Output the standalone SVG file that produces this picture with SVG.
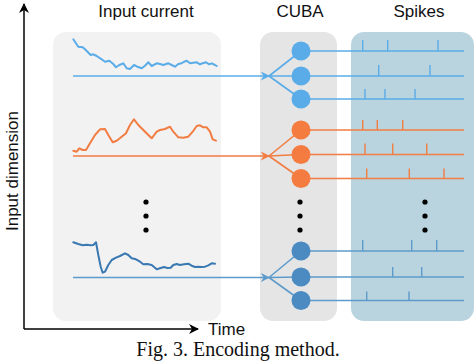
<svg xmlns="http://www.w3.org/2000/svg" width="474" height="362" viewBox="0 0 474 362">
<defs>
<style>
.lbl{font-family:"Liberation Sans",Arial,sans-serif;font-size:17px;fill:#111}
.cap{font-family:"Liberation Serif","Times New Roman",serif;font-size:20px;fill:#111}
.w{fill:none;stroke-width:2;stroke-linejoin:round;stroke-linecap:round}
.s{fill:none;stroke-width:1.6}
.t{fill:none;stroke-width:1.4}
.lb{stroke:#5aace8}
.or{stroke:#f27d43}
.db{stroke:#3a78b2}
.dbl{stroke:#5e9bcb}
.dot{fill:#000}
</style>
<marker id="ax" viewBox="0 0 10 10" refX="9" refY="5" markerWidth="10" markerHeight="10" markerUnits="userSpaceOnUse" orient="auto">
<path d="M0,0 L10,5 L0,10 L3,5 Z" fill="#000"/>
</marker>
<marker id="ab" viewBox="0 0 10 10" refX="9" refY="5" markerWidth="9" markerHeight="9" markerUnits="userSpaceOnUse" orient="auto">
<path d="M0,0 L10,5 L0,10 L3,5 Z" fill="#5aace8"/>
</marker>
<marker id="ao" viewBox="0 0 10 10" refX="9" refY="5" markerWidth="9" markerHeight="9" markerUnits="userSpaceOnUse" orient="auto">
<path d="M0,0 L10,5 L0,10 L3,5 Z" fill="#f27d43"/>
</marker>
<marker id="ad" viewBox="0 0 10 10" refX="9" refY="5" markerWidth="9" markerHeight="9" markerUnits="userSpaceOnUse" orient="auto">
<path d="M0,0 L10,5 L0,10 L3,5 Z" fill="#5e9bcb"/>
</marker>
</defs>
<rect width="474" height="362" fill="#fff"/>

<g id="panel-input">
<rect x="53" y="32" width="168" height="289" rx="13" fill="#f2f2f2"/>
<text class="lbl" x="146" y="17" text-anchor="middle">Input current</text>
</g>
<g id="panel-cuba">
<rect x="260" y="32" width="77" height="289" rx="13" fill="#e5e5e5"/>
<text class="lbl" x="300" y="17" text-anchor="middle">CUBA</text>
</g>
<g id="panel-spikes">
<rect x="351" y="32" width="123" height="289" rx="13" fill="#b9d4df"/>
<text class="lbl" x="419" y="17" text-anchor="middle">Spikes</text>
</g>

<g id="axes">
<line x1="24" y1="329" x2="24" y2="4" stroke="#000" stroke-width="1.5" marker-end="url(#ax)"/>
<line x1="24" y1="329" x2="198" y2="329" stroke="#000" stroke-width="1.5" marker-end="url(#ax)"/>
<text class="lbl" x="17.5" y="171" text-anchor="middle" transform="rotate(-90 17.5 171)">Input dimension</text>
<text class="lbl" x="208" y="335">Time</text>
</g>

<g id="signals">
<polyline class="w lb" points="73.3,39.3 78.3,46.7 82.7,47.3 85,49.3 90.7,55 93.3,54.3 96.7,56 101.7,59.3 105,61.7 109.3,60.7 113.3,64 116,67.3 119.3,65 123.3,63.3 126.7,68.3 130,69 134,65 137.3,66.7 141.7,68.3 145,65.7 148.3,62.3 151.7,66 156.7,63.3 160,64 163.3,65 168.3,63.3 171.7,65 175,66.7 178.3,64 181.7,63.3 184,61.7 186.7,60.7 190,63.3 193.3,62.7 196.7,62.3 200,64.3 202.7,63.3 206,62.3 209.3,64.3 211.7,63.3 215,65 216.7,66"/>
<polyline class="w or" points="73.3,150.7 76.7,151.7 79.3,148.3 82.7,150 86,150 90,143.3 95,135 100,129.3 105,129 108.3,135 112.7,142.3 116.7,140.7 121.7,136.7 126,133.3 130,125 134,119.3 138.3,125 143.3,130 147.3,134 151.7,138.3 156.7,131.7 160,130 165,129 170,126.7 173.3,131.7 178.3,137.3 183.3,137.7 188.3,136.7 192.7,131.7 196.7,126 200,125.3 203.3,127.3 206.7,127.3 210,131.7 212.7,139.3 216,140.7"/>
<polyline class="w db" points="73.3,242.3 78.3,244 82.7,245.3 86.7,244.7 90.7,245.3 93.3,245 96,242.3 98.3,255 100.7,266.7 102.7,272.7 105,271.7 108.3,265 111.7,260 116,257.7 120,256 125,253.3 128.3,255 131.7,258.3 136,259.3 140,261.7 143.3,264.3 147.3,264 151.7,265 156.7,269.3 160,268.3 164,267 167.3,268 170.7,267.7 173.3,265 176.7,264 180,265 184,264.3 188.3,263.7 191.7,265.7 195,267 198.3,266.7 201.7,267 205,266.7 208.3,265.3 211.7,263.3 215,263.7"/>
<circle class="dot" cx="146" cy="202" r="2.6"/>
<circle class="dot" cx="146" cy="216" r="2.6"/>
<circle class="dot" cx="146" cy="230" r="2.6"/>
</g>

<g id="connectors">
<line class="s lb" x1="73" y1="76" x2="269" y2="76" marker-end="url(#ab)"/>
<line class="s or" x1="73" y1="156" x2="269" y2="156" marker-end="url(#ao)"/>
<line class="s dbl" x1="73" y1="277.5" x2="269" y2="277.5" marker-end="url(#ad)"/>
<path class="s lb" d="M269,76 L301,51 M269,76 L301,76 M269,76 L301,99 M301,51 H464 M301,76 H464 M301,99 H464"/>
<path class="s or" d="M269,156 L301,130 M269,156 L301,154.5 M269,156 L301,178.5 M301,130 H464 M301,154.5 H464 M301,178.5 H464"/>
<path class="s dbl" d="M269,277.5 L301,251 M269,277.5 L301,277 M269,277.5 L301,300.5 M301,251 H464 M301,277 H464 M301,300.5 H464"/>
<path class="t lb" d="M362.7,51 v-11 M387.7,51 v-11 M438,51 v-11 M378.7,76 v-11 M430,76 v-11 M365,99 v-10 M385,99 v-10 M415,99 v-10"/>
<path class="t or" d="M362.7,130 v-10 M377.3,130 v-10 M402.7,130 v-10 M365,154.5 v-11 M392.7,154.5 v-11 M426.7,154.5 v-11 M366.7,178.5 v-10 M409.3,178.5 v-10 M444,178.5 v-10"/>
<path class="t dbl" d="M362.7,251 v-11 M411.7,251 v-11 M436.7,251 v-11 M392.7,277 v-10 M421.7,277 v-10 M366.7,300.5 v-9 M409,300.5 v-9"/>
</g>

<g id="node-lb1"><circle cx="301" cy="51" r="9.5" fill="#5aace8"/></g>
<g id="node-lb2"><circle cx="301" cy="76" r="9.5" fill="#5aace8"/></g>
<g id="node-lb3"><circle cx="301" cy="99" r="9.5" fill="#5aace8"/></g>
<g id="node-or1"><circle cx="301" cy="130" r="9.5" fill="#f47c40"/></g>
<g id="node-or2"><circle cx="301" cy="154.5" r="9.5" fill="#f47c40"/></g>
<g id="node-or3"><circle cx="301" cy="178.5" r="9.5" fill="#f47c40"/></g>
<g id="node-db1"><circle cx="301" cy="251" r="9.5" fill="#4c8bc2"/></g>
<g id="node-db2"><circle cx="301" cy="277" r="9.5" fill="#4c8bc2"/></g>
<g id="node-db3"><circle cx="301" cy="300.5" r="9.5" fill="#4c8bc2"/></g>

<g id="ellipses">
<circle class="dot" cx="300" cy="202" r="2.6"/>
<circle class="dot" cx="300" cy="216" r="2.6"/>
<circle class="dot" cx="300" cy="230" r="2.6"/>
<circle class="dot" cx="425" cy="202" r="2.6"/>
<circle class="dot" cx="425" cy="216" r="2.6"/>
<circle class="dot" cx="425" cy="230" r="2.6"/>
</g>

<text class="cap" x="238" y="356" text-anchor="middle">Fig. 3. Encoding method.</text>
</svg>
